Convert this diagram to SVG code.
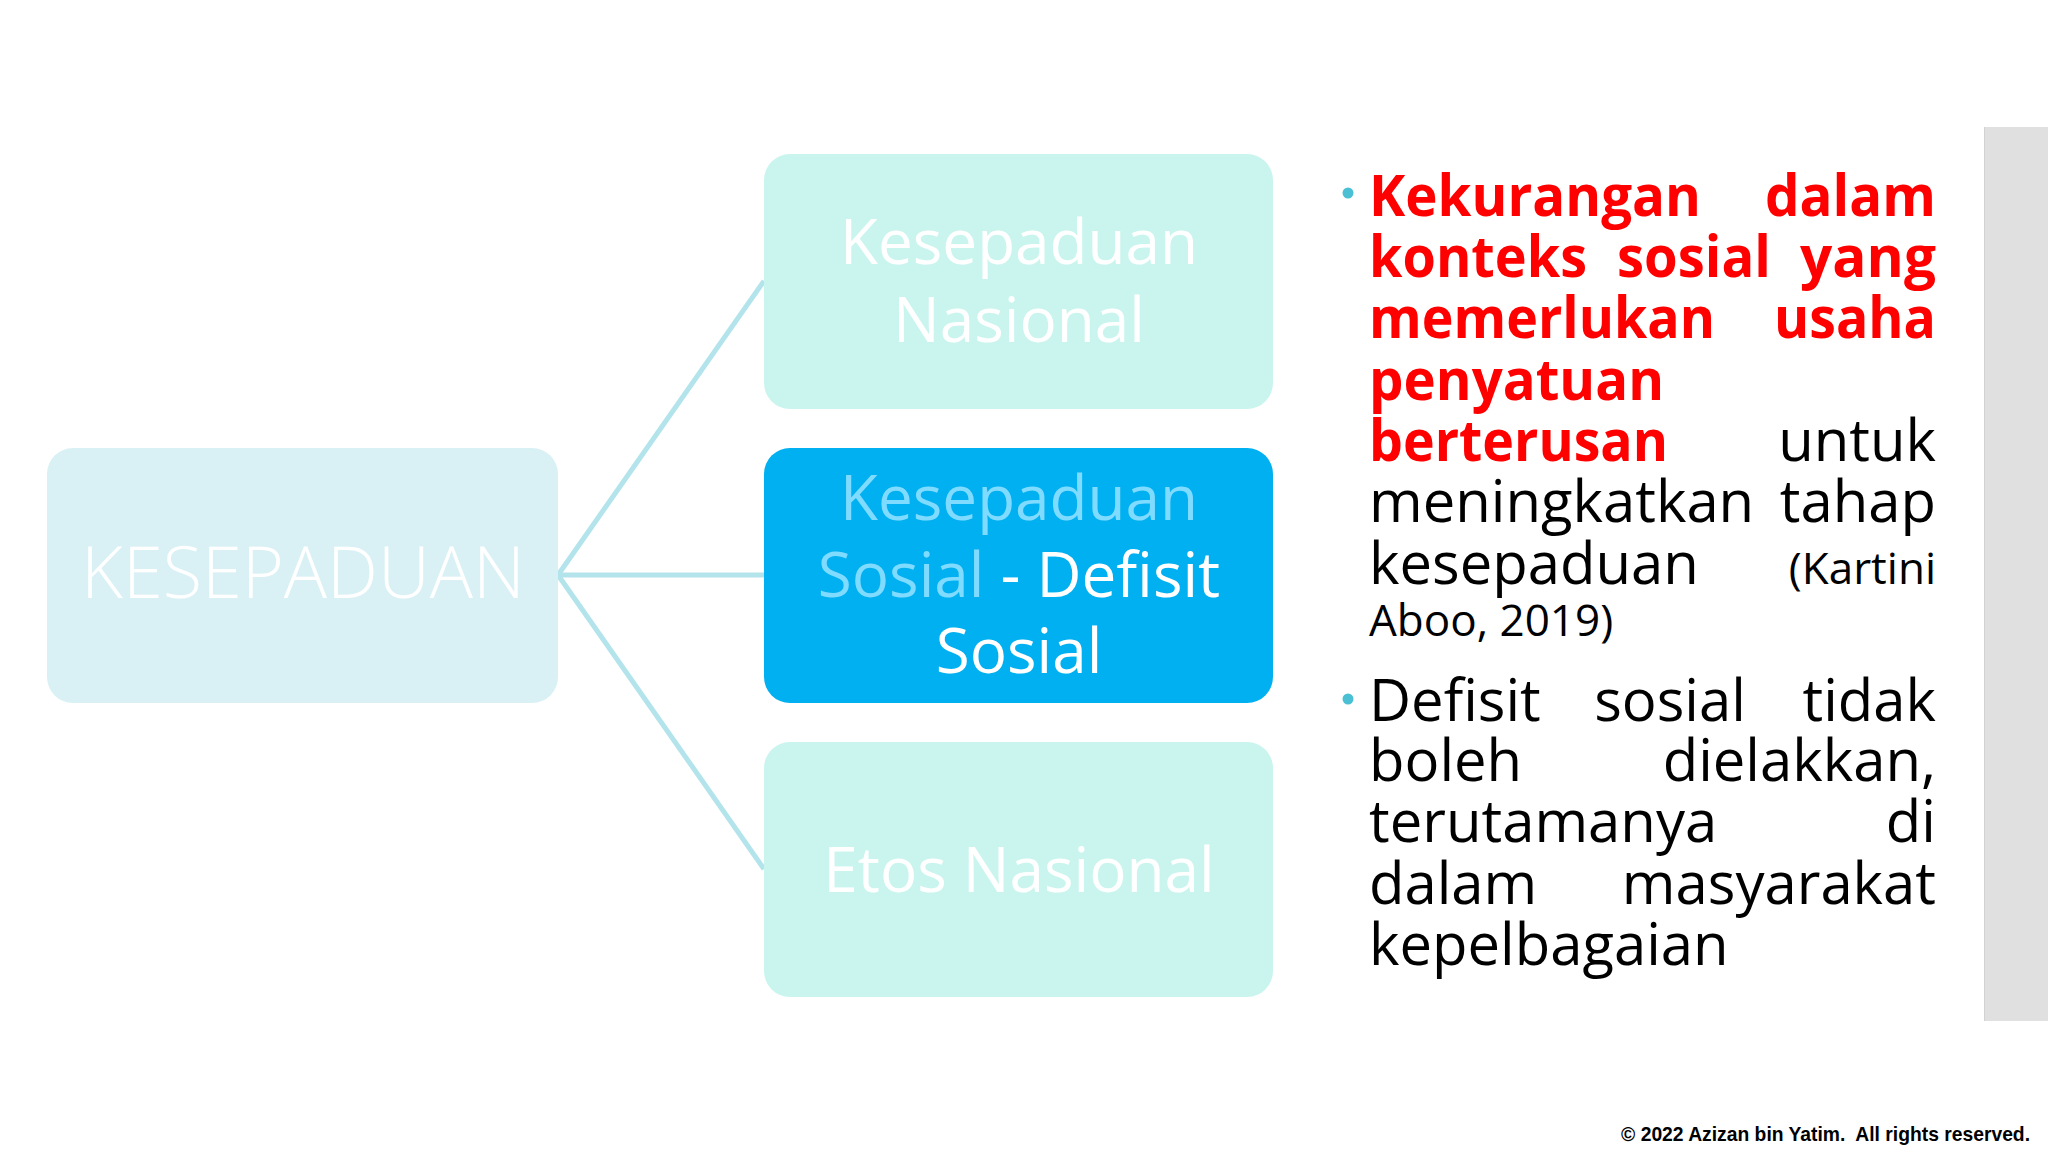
<svg xmlns="http://www.w3.org/2000/svg" width="2048" height="1152" viewBox="0 0 2048 1152">
<style>
.box{font-family:"Open Sans","Noto Sans",sans-serif;font-size:62px;fill:#FFFFFF;text-anchor:middle}
.t{font-family:"Open Sans","Noto Sans",sans-serif;font-size:58px;fill:#000000}
.r{fill:#FF0000;font-weight:bold}
.e{text-anchor:end}
.m{text-anchor:middle}
.s{font-size:44px}
.conn{stroke:#B3E4EC;stroke-width:5;fill:none}
</style>
<rect x="0" y="0" width="2048" height="1152" fill="#FFFFFF"/>
<rect x="1984" y="127" width="64" height="894" fill="#E0E0E0"/>
<line x1="1984.5" y1="127" x2="1984.5" y2="1021" stroke="#D2D2D2" stroke-width="1"/>
<g id="connectors">
<line class="conn" x1="558" y1="575" x2="764" y2="281"/>
<line class="conn" x1="558" y1="575" x2="764" y2="575"/>
<line class="conn" x1="558" y1="575" x2="764" y2="869"/>
</g>
<g id="node-kesepaduan">
<rect x="47" y="448" width="511" height="255" rx="26" fill="#D9F1F5"/>
<text class="box" x="303" y="598" style="font-size:72px;font-weight:300">KESEPADUAN</text>
</g>
<g id="node-nasional">
<rect x="764" y="154" width="509" height="255" rx="26" fill="#CAF5EE"/>
<text class="box" x="1019" y="264">Kesepaduan</text>
<text class="box" x="1019" y="342">Nasional</text>
</g>
<g id="node-sosial">
<rect x="764" y="448" width="509" height="255" rx="26" fill="#00B0F0"/>
<text class="box" x="1019" y="520" style="fill:#7FDBFF">Kesepaduan</text>
<text class="box" x="1019" y="597"><tspan style="fill:#7FDBFF">Sosial</tspan> - Defisit</text>
<text class="box" x="1019" y="673">Sosial</text>
</g>
<g id="node-etos">
<rect x="764" y="742" width="509" height="255" rx="26" fill="#CAF5EE"/>
<text class="box" x="1019" y="892">Etos Nasional</text>
</g>
<g id="bullets">
<circle cx="1348" cy="193" r="5.5" fill="#4BC0D5"/>
<circle cx="1348" cy="699" r="5.5" fill="#4BC0D5"/>
<text class="t r" x="1369" y="216" textLength="332" lengthAdjust="spacingAndGlyphs">Kekurangan</text>
<text class="t r" x="1765" y="216" textLength="171" lengthAdjust="spacingAndGlyphs">dalam</text>
<text class="t r" x="1369" y="277" textLength="218" lengthAdjust="spacingAndGlyphs">konteks</text>
<text class="t r" x="1617" y="277" textLength="154" lengthAdjust="spacingAndGlyphs">sosial</text>
<text class="t r" x="1800" y="277" textLength="136" lengthAdjust="spacingAndGlyphs">yang</text>
<text class="t r" x="1369" y="338" textLength="346" lengthAdjust="spacingAndGlyphs">memerlukan</text>
<text class="t r" x="1774" y="338" textLength="162" lengthAdjust="spacingAndGlyphs">usaha</text>
<text class="t r" x="1369" y="400" textLength="295" lengthAdjust="spacingAndGlyphs">penyatuan</text>
<text class="t r" x="1369" y="461" textLength="299" lengthAdjust="spacingAndGlyphs">berterusan</text>
<text class="t e" x="1936" y="461">untuk</text>
<text class="t" x="1369" y="522">meningkatkan</text>
<text class="t e" x="1936" y="522">tahap</text>
<text class="t" x="1369" y="584">kesepaduan</text>
<text class="t s e" x="1936" y="584">(Kartini</text>
<text class="t s" x="1369" y="636">Aboo, 2019)</text>
<text class="t" x="1369" y="721">Defisit</text>
<text class="t m" x="1670" y="721">sosial</text>
<text class="t e" x="1936" y="721">tidak</text>
<text class="t" x="1369" y="781">boleh</text>
<text class="t e" x="1936" y="781">dielakkan,</text>
<text class="t" x="1369" y="842">terutamanya</text>
<text class="t e" x="1936" y="842">di</text>
<text class="t" x="1369" y="904">dalam</text>
<text class="t e" x="1936" y="904">masyarakat</text>
<text class="t" x="1369" y="965">kepelbagaian</text>
</g>
<text x="2030" y="1141" font-family="Liberation Sans, Arial, sans-serif" font-size="19.3" font-weight="bold" fill="#000000" text-anchor="end" xml:space="preserve">© 2022 Azizan bin Yatim.  All rights reserved.</text>
</svg>
